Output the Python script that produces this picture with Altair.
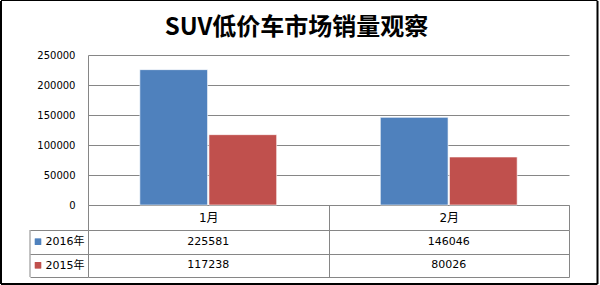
import altair as alt
import pandas as pd

# ---- data ----
months = ["1月", "2月"]
series = ["2016年", "2015年"]
values_2016 = [225581, 146046]
values_2015 = [117238, 80026]
y_ticks = [0, 50000, 100000, 150000, 200000, 250000]
colors = ["#4F81BD", "#C0504D"]
title_text = "SUV低价车市场销量观察"

rows = []
for i, m in enumerate(months):
    rows.append({"month": m, "series": series[0], "value": values_2016[i]})
    rows.append({"month": m, "series": series[1], "value": values_2015[i]})
df = pd.DataFrame(rows)
one = pd.DataFrame({"k": [0]})

FONT = "DejaVu Sans, Noto Sans CJK SC"
GRID = "#868686"

color_scale = alt.Scale(domain=series, range=colors)
x_scale = alt.Scale(domain=months, paddingInner=0, paddingOuter=0)

# ---- bar chart (with header row as the x axis) ----
bars = alt.Chart(df).mark_bar(stroke="white", strokeWidth=0.6).encode(
    x=alt.X("month:N", scale=x_scale, sort=months,
            axis=alt.Axis(title=None, labelAngle=0, tickBand="extent", tickSize=25,
                          tickColor=GRID, domainColor=GRID, labelPadding=-18,
                          labelFontSize=12, labelFont=FONT, labelColor="black", grid=False)),
    xOffset=alt.XOffset("series:N", sort=series,
                        scale=alt.Scale(paddingOuter=0.75, paddingInner=0.02)),
    y=alt.Y("value:Q", scale=alt.Scale(domain=[0, 250000]),
            axis=alt.Axis(title=None, values=y_ticks, format="d", gridColor=GRID,
                          domainColor=GRID, ticks=False, labelPadding=13,
                          labelFontSize=10, labelFont=FONT, labelColor="black")),
    color=alt.Color("series:N", scale=color_scale, legend=None),
).properties(
    width=481, height=150,
    title=alt.TitleParams(title_text, font="Noto Sans CJK SC", fontSize=24,
                          fontWeight="bold", anchor="middle", color="black",
                          offset=10, dx=-32),
)

# ---- data table ----
tbase = alt.Chart(df).encode(
    x=alt.X("month:N", scale=x_scale, sort=months,
            axis=alt.Axis(title=None, labels=False, ticks=False, domain=False, grid=True,
                          tickBand="extent", gridColor=GRID)),
    y=alt.Y("series:N", sort=series, scale=alt.Scale(paddingInner=0, paddingOuter=0),
            axis=alt.Axis(title=None, grid=True, tickBand="extent", gridColor=GRID,
                          tickSize=58, tickColor=GRID, domain=False, labelPadding=-54,
                          labelFontSize=11, labelFont=FONT, labelColor="black")),
)
texts = tbase.mark_text(fontSize=11, font=FONT, color="black").encode(
    text=alt.Text("value:Q", format="d"))
keys = tbase.mark_point(shape="square", filled=True, size=40, opacity=1).encode(
    x=alt.value(-50), color=alt.Color("series:N", scale=color_scale, legend=None))
left_edge = alt.Chart(one).mark_rule(color=GRID).encode(
    x=alt.value(-58), y=alt.value(0), y2=alt.value(47))

# outer black frame
f_left = alt.Chart(one).mark_rule(color="black", strokeWidth=2).encode(
    x=alt.value(-87), y=alt.value(-229), y2=alt.value(54))
f_right = alt.Chart(one).mark_rule(color="black", strokeWidth=2).encode(
    x=alt.value(509.5), y=alt.value(-229), y2=alt.value(54))
f_top = alt.Chart(one).mark_rule(color="black", strokeWidth=1).encode(
    x=alt.value(-87), x2=alt.value(509.5), y=alt.value(-229.5))
f_bottom = alt.Chart(one).mark_rule(color="black", strokeWidth=2).encode(
    x=alt.value(-87), x2=alt.value(509.5), y=alt.value(54))

table = alt.layer(texts, keys, left_edge, f_left, f_right, f_top, f_bottom).properties(
    width=481, height=47)

chart = alt.vconcat(bars, table, spacing=25, bounds="flush").properties(
    padding=0, background="white"
).configure_view(strokeWidth=0)

chart.save("out.html", embed_options={"renderer": "svg", "actions": False})
